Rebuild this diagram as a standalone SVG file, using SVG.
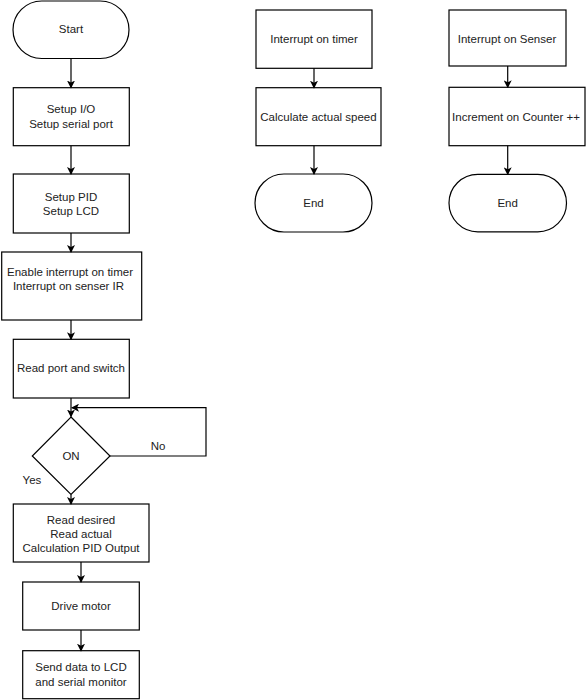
<svg xmlns="http://www.w3.org/2000/svg" width="586" height="700" viewBox="0 0 586 700">
<defs>
<marker id="arr" markerWidth="8" markerHeight="8" refX="7" refY="4" orient="auto" markerUnits="userSpaceOnUse">
<path d="M0,0 L8,4 L0,8 L2,4 Z" fill="#000"/>
</marker>
</defs>
<style>
.n{fill:#fff;stroke:#000;stroke-width:1.2}
.t{font-family:"Liberation Sans",Arial,sans-serif;font-size:11.5px;fill:#222;text-anchor:middle}
.c{fill:none;stroke:#000;stroke-width:1.2;marker-end:url(#arr)}
.l{fill:none;stroke:#000;stroke-width:1.2}
</style>
<rect width="586" height="700" fill="#fff"/>
<g id="start"><rect class="n" x="13" y="1" width="116" height="57.5" rx="28.75" ry="28.75"/><text class="t" x="71" y="33">Start</text></g>
<g id="setupio"><rect class="n" x="13.3" y="87.7" width="116" height="58"/><text class="t" x="71" y="113">Setup I/O</text><text class="t" x="71" y="128">Setup serial port</text></g>
<g id="setuppid"><rect class="n" x="13.3" y="174" width="116" height="59"/><text class="t" x="71" y="201">Setup PID</text><text class="t" x="71" y="215">Setup LCD</text></g>
<g id="enable"><rect class="n" x="1.7" y="252" width="140" height="68"/><text class="t" x="70" y="276">Enable interrupt on timer</text><text class="t" x="68.5" y="290">Interrupt on senser IR</text></g>
<g id="readport"><rect class="n" x="13.3" y="339.3" width="116" height="58.7"/><text class="t" x="71" y="371.7">Read port and switch</text></g>
<g id="on"><path class="n" d="M71,417 L110,456 L71,494.5 L32.3,456 Z"/><text class="t" x="71" y="460">ON</text></g>
<g id="readdesired"><rect class="n" x="13.3" y="504" width="135.7" height="58"/><text class="t" x="81" y="524">Read desired</text><text class="t" x="81" y="537.5">Read actual</text><text class="t" x="81" y="552">Calculation PID Output</text></g>
<g id="drive"><rect class="n" x="22.7" y="582" width="116.6" height="48"/><text class="t" x="81" y="610">Drive motor</text></g>
<g id="send"><rect class="n" x="22.7" y="650.7" width="116.6" height="48"/><text class="t" x="81" y="671">Send data to LCD</text><text class="t" x="81" y="685.7">and serial monitor</text></g>
<g id="inttimer"><rect class="n" x="256" y="10" width="116" height="58.3"/><text class="t" x="314" y="43">Interrupt on timer</text></g>
<g id="calc"><rect class="n" x="256" y="87.7" width="125" height="58"/><text class="t" x="318.5" y="120.7">Calculate actual speed</text></g>
<g id="end1"><rect class="n" x="255" y="174" width="117" height="58" rx="29" ry="29"/><text class="t" x="313.5" y="207">End</text></g>
<g id="intsenser"><rect class="n" x="449" y="10" width="117" height="56"/><text class="t" x="507" y="43">Interrupt on Senser</text></g>
<g id="incr"><rect class="n" x="449" y="87.3" width="136" height="58.4"/><text class="t" x="516" y="120.7">Increment on Counter ++</text></g>
<g id="end2"><rect class="n" x="449" y="174.3" width="117.5" height="57.5" rx="28.75" ry="28.75"/><text class="t" x="507.7" y="207">End</text></g>
<g id="connectors">
<path class="c" d="M71,58.5 L71,87.5"/>
<path class="c" d="M71,145.7 L71,174"/>
<path class="c" d="M71,233 L71,252"/>
<path class="c" d="M71,320 L71,339.3"/>
<path class="c" d="M71,398 L71,416.5"/>
<path class="c" d="M110,456 L206,456 L206,407.7 L72,407.7"/>
<path class="c" d="M71,494.5 L71,504"/>
<path class="c" d="M81,562 L81,582"/>
<path class="c" d="M81,630 L81,650.7"/>
<path class="c" d="M314,68.3 L314,87.7"/>
<path class="c" d="M314,145.7 L314,174"/>
<path class="c" d="M507.7,66 L507.7,87.3"/>
<path class="c" d="M507.7,145.7 L507.7,174.3"/>
<text class="t" x="158" y="450">No</text>
<text class="t" x="32" y="484">Yes</text>
</g>
</svg>
